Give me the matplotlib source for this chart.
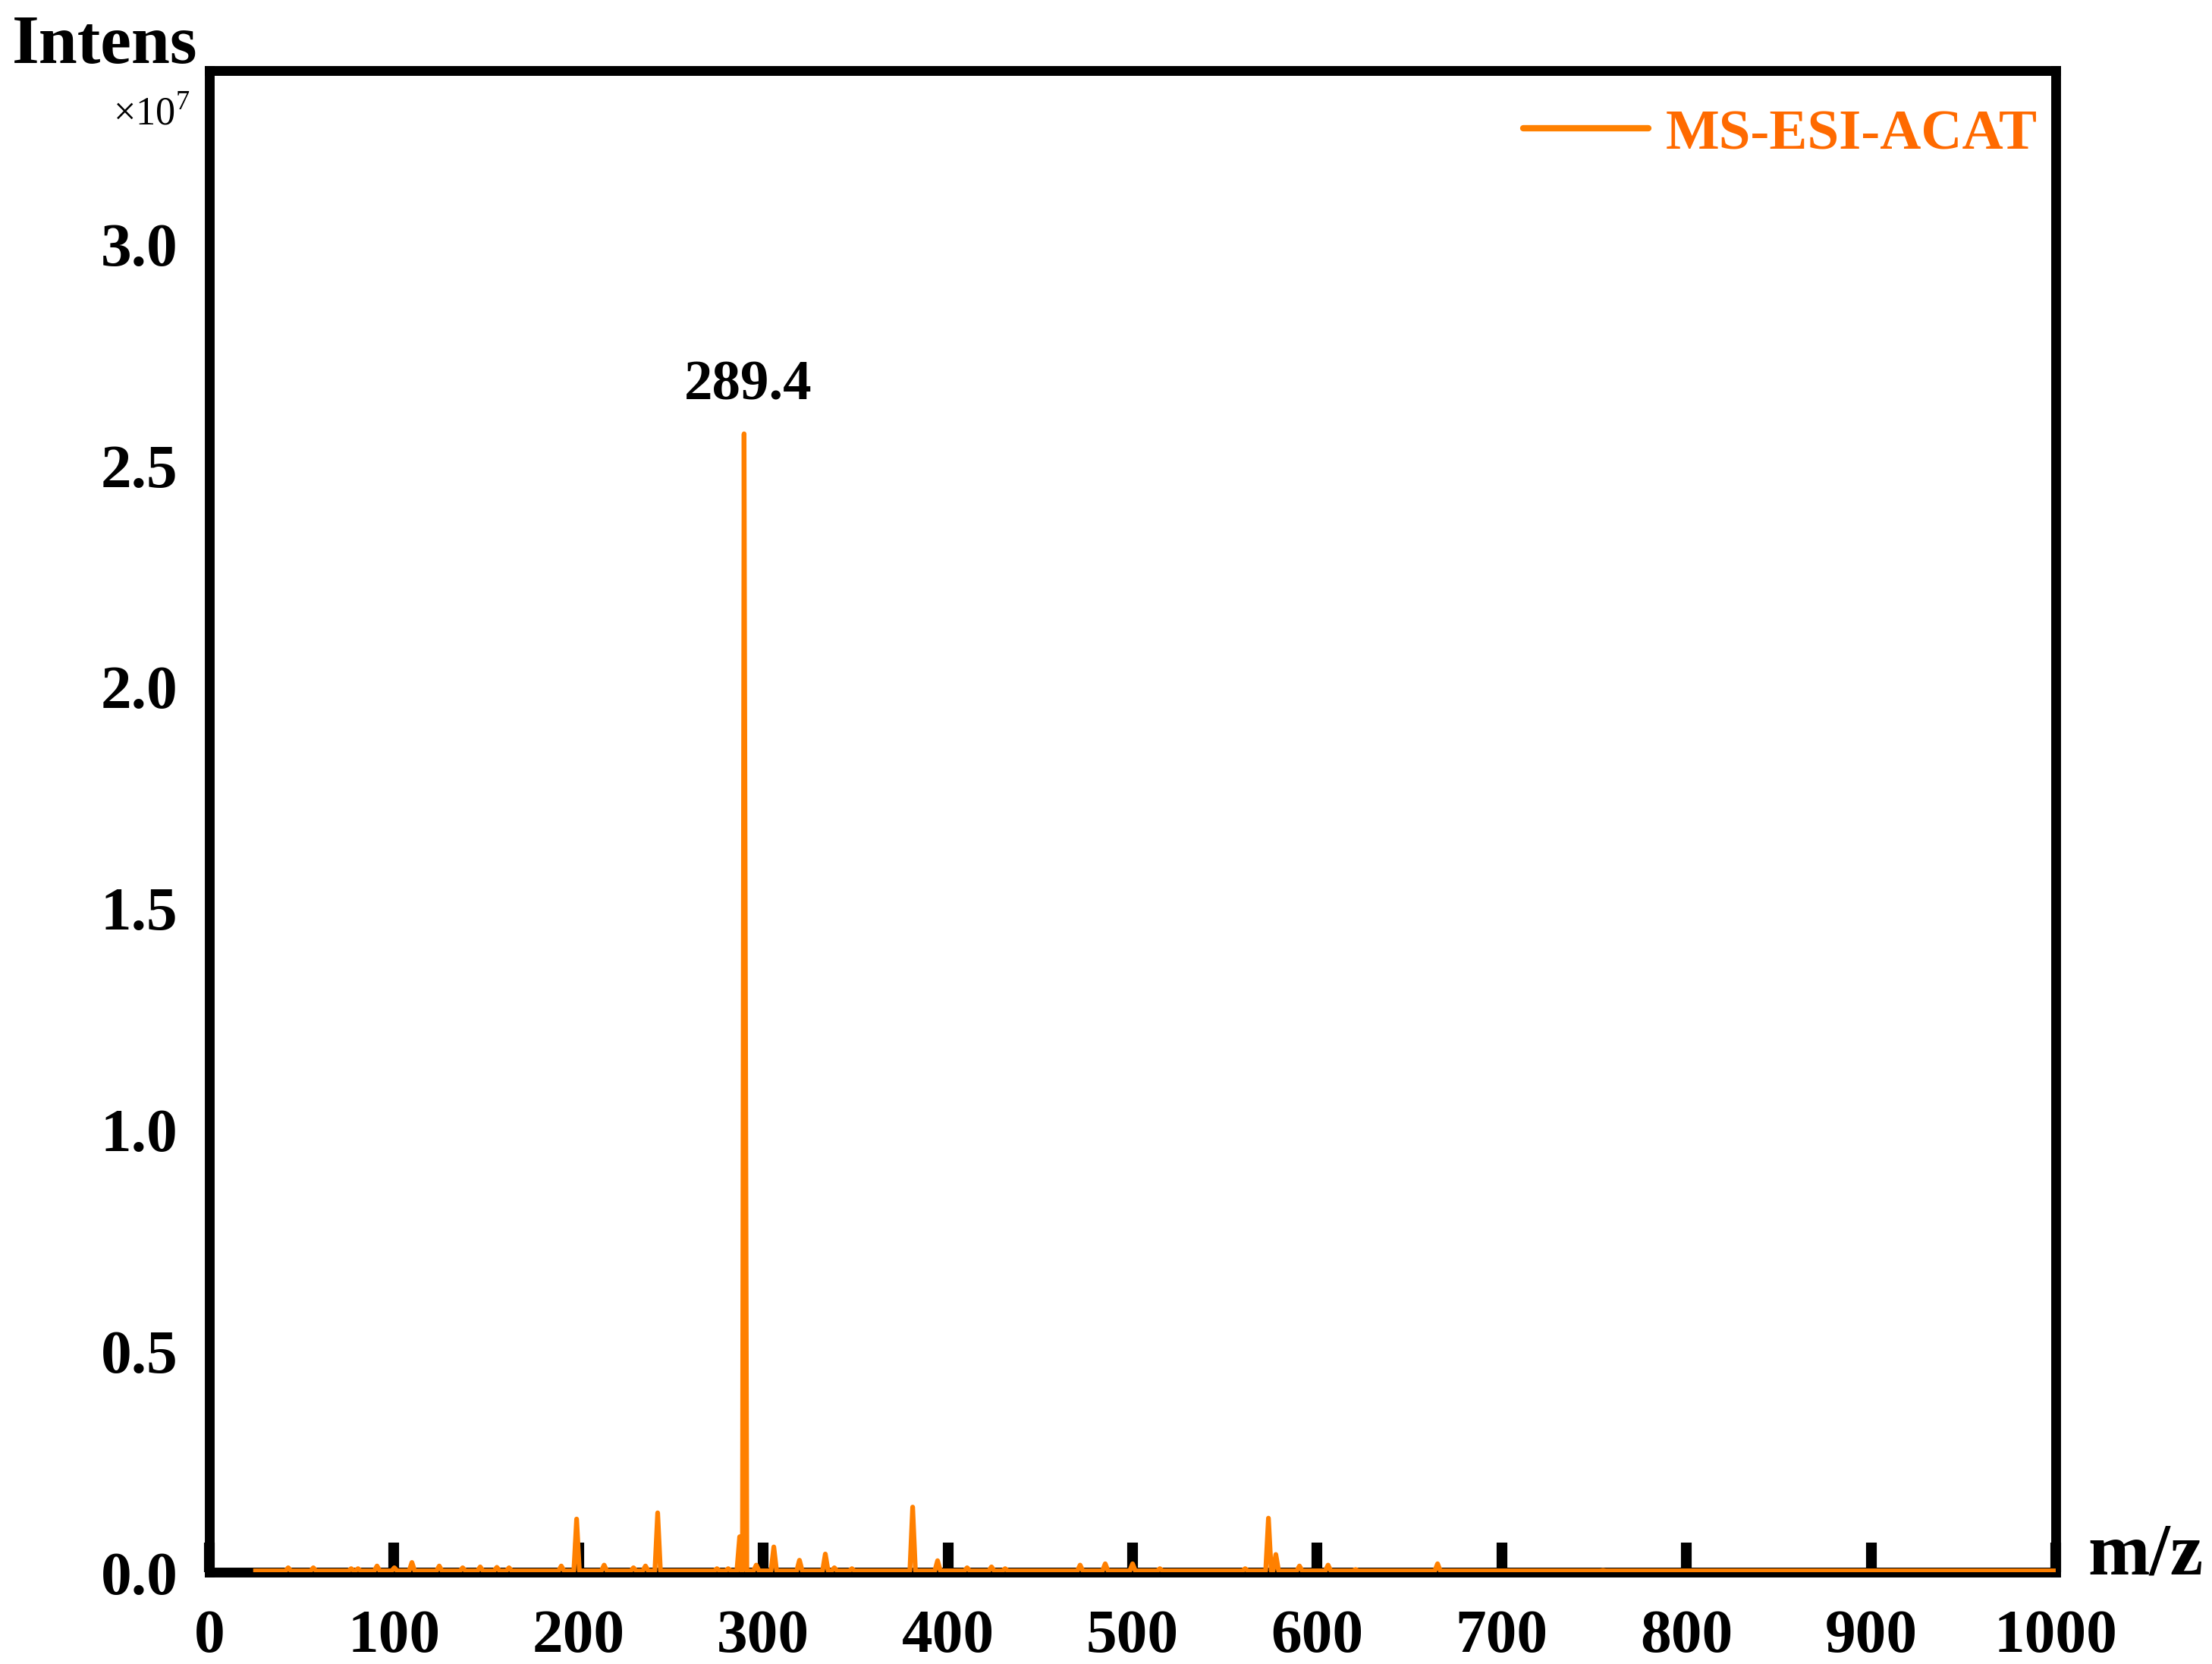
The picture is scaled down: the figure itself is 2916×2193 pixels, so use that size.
import numpy as np
import matplotlib
matplotlib.use('Agg')
import matplotlib.pyplot as plt

plt.rcParams['font.family'] = ['Liberation Serif', 'DejaVu Serif']
plt.rcParams['mathtext.fontset'] = 'custom'
plt.rcParams['mathtext.rm'] = 'Liberation Serif'

# peak list (m/z, intensity in 1e7 counts)
peak_mz = [42.7, 56.3, 76.8, 80.5, 90.8, 100.2, 109.7, 124.5, 137.2, 146.7,
           155.7, 162.3, 190.6, 198.9, 213.8, 229.7, 236.2, 242.8, 274.9, 281.0,
           287.2, 289.6, 296.2, 305.7, 319.6, 333.6, 338.5, 348.0, 380.9, 394.4,
           410.4, 423.6, 431.0, 471.6, 485.2, 500.0, 514.8, 561.0, 573.6, 577.6,
           590.4, 605.9, 620.8, 665.2, 754.8]
peak_int = [0.010, 0.010, 0.008, 0.008, 0.014, 0.010, 0.022, 0.014, 0.010, 0.012,
            0.011, 0.010, 0.014, 0.120, 0.016, 0.010, 0.014, 0.134, 0.008, 0.008,
            0.080, 2.570, 0.016, 0.057, 0.027, 0.041, 0.010, 0.008, 0.147, 0.026,
            0.010, 0.012, 0.008, 0.016, 0.019, 0.019, 0.008, 0.008, 0.122, 0.040,
            0.014, 0.016, 0.006, 0.019, 0.004]
baseline = 0.003
mz_start, mz_end = 25.0, 1000.0

label_peak = 289.4
xticks = [0, 100, 200, 300, 400, 500, 600, 700, 800, 900, 1000]
yticks = [0.0, 0.5, 1.0, 1.5, 2.0, 2.5, 3.0]

orange = '#FF8000'
hw = 1.5  # peak half width in m/z

# build the profile line from the peak list
pts = [(mz_start, baseline), (mz_end, baseline)]
for m, h in zip(peak_mz, peak_int):
    pts += [(m - hw, baseline), (m, h), (m + hw, baseline)]
pts.sort(key=lambda p: p[0])
xs = np.array([p[0] for p in pts])
ys = np.array([p[1] for p in pts])

fig = plt.figure(figsize=(9.72, 7.3133), dpi=300)
ax = fig.add_axes([276 / 2916, 1 - 2073 / 2194, (2710 - 276) / 2916, (2073 - 94) / 2194])

ax.plot(xs, ys, color=orange, lw=1.5, zorder=3, solid_joinstyle='round',
        label='MS-ESI-ACAT')

ax.set_xlim(0, 1000)
ax.set_ylim(0, 3.39)
ax.set_xticks(xticks)
ax.set_yticks(yticks)
ax.set_xticklabels([str(t) for t in xticks])
ax.set_yticklabels(['%.1f' % t for t in yticks])

for s in ax.spines.values():
    s.set_linewidth(3.1)
ax.tick_params(axis='x', direction='in', length=9.4, width=3.4, pad=11.5,
               labelsize=19.5)
ax.tick_params(axis='y', length=0, pad=10, labelsize=19.5)
for lab in ax.get_xticklabels() + ax.get_yticklabels():
    lab.set_fontweight('bold')

ax.annotate('289.4', xy=(label_peak, peak_int[peak_mz.index(289.6)]),
            xytext=(1.5, 11), textcoords='offset points', ha='center',
            va='baseline', fontsize=18, fontweight='bold')

leg = ax.legend(loc='center right', bbox_to_anchor=(2686 / 2916, 1 - 178 / 2194),
                bbox_transform=fig.transFigure, frameon=False, borderpad=0,
                borderaxespad=0, handlelength=2.2, handletextpad=0.3,
                prop={'size': 18, 'weight': 'bold'})
for t in leg.get_texts():
    t.set_color('#FF6A00')
for l in leg.get_lines():
    l.set_linewidth(2.0)
    l.set_solid_capstyle('round')

fig.text(16 / 2916, 1 - 83 / 2194, 'Intens', ha='left', va='baseline',
         fontsize=22, fontweight='bold')
fig.text(250 / 2916, 1 - 165 / 2194, r'$\times10^{7}$', ha='right', va='baseline',
         fontsize=12.5)
fig.text(2752 / 2916, 1 - 2075 / 2194, 'm/z', ha='left', va='baseline',
         fontsize=23.5, fontweight='bold')

fig.savefig('out.png', dpi=300)
